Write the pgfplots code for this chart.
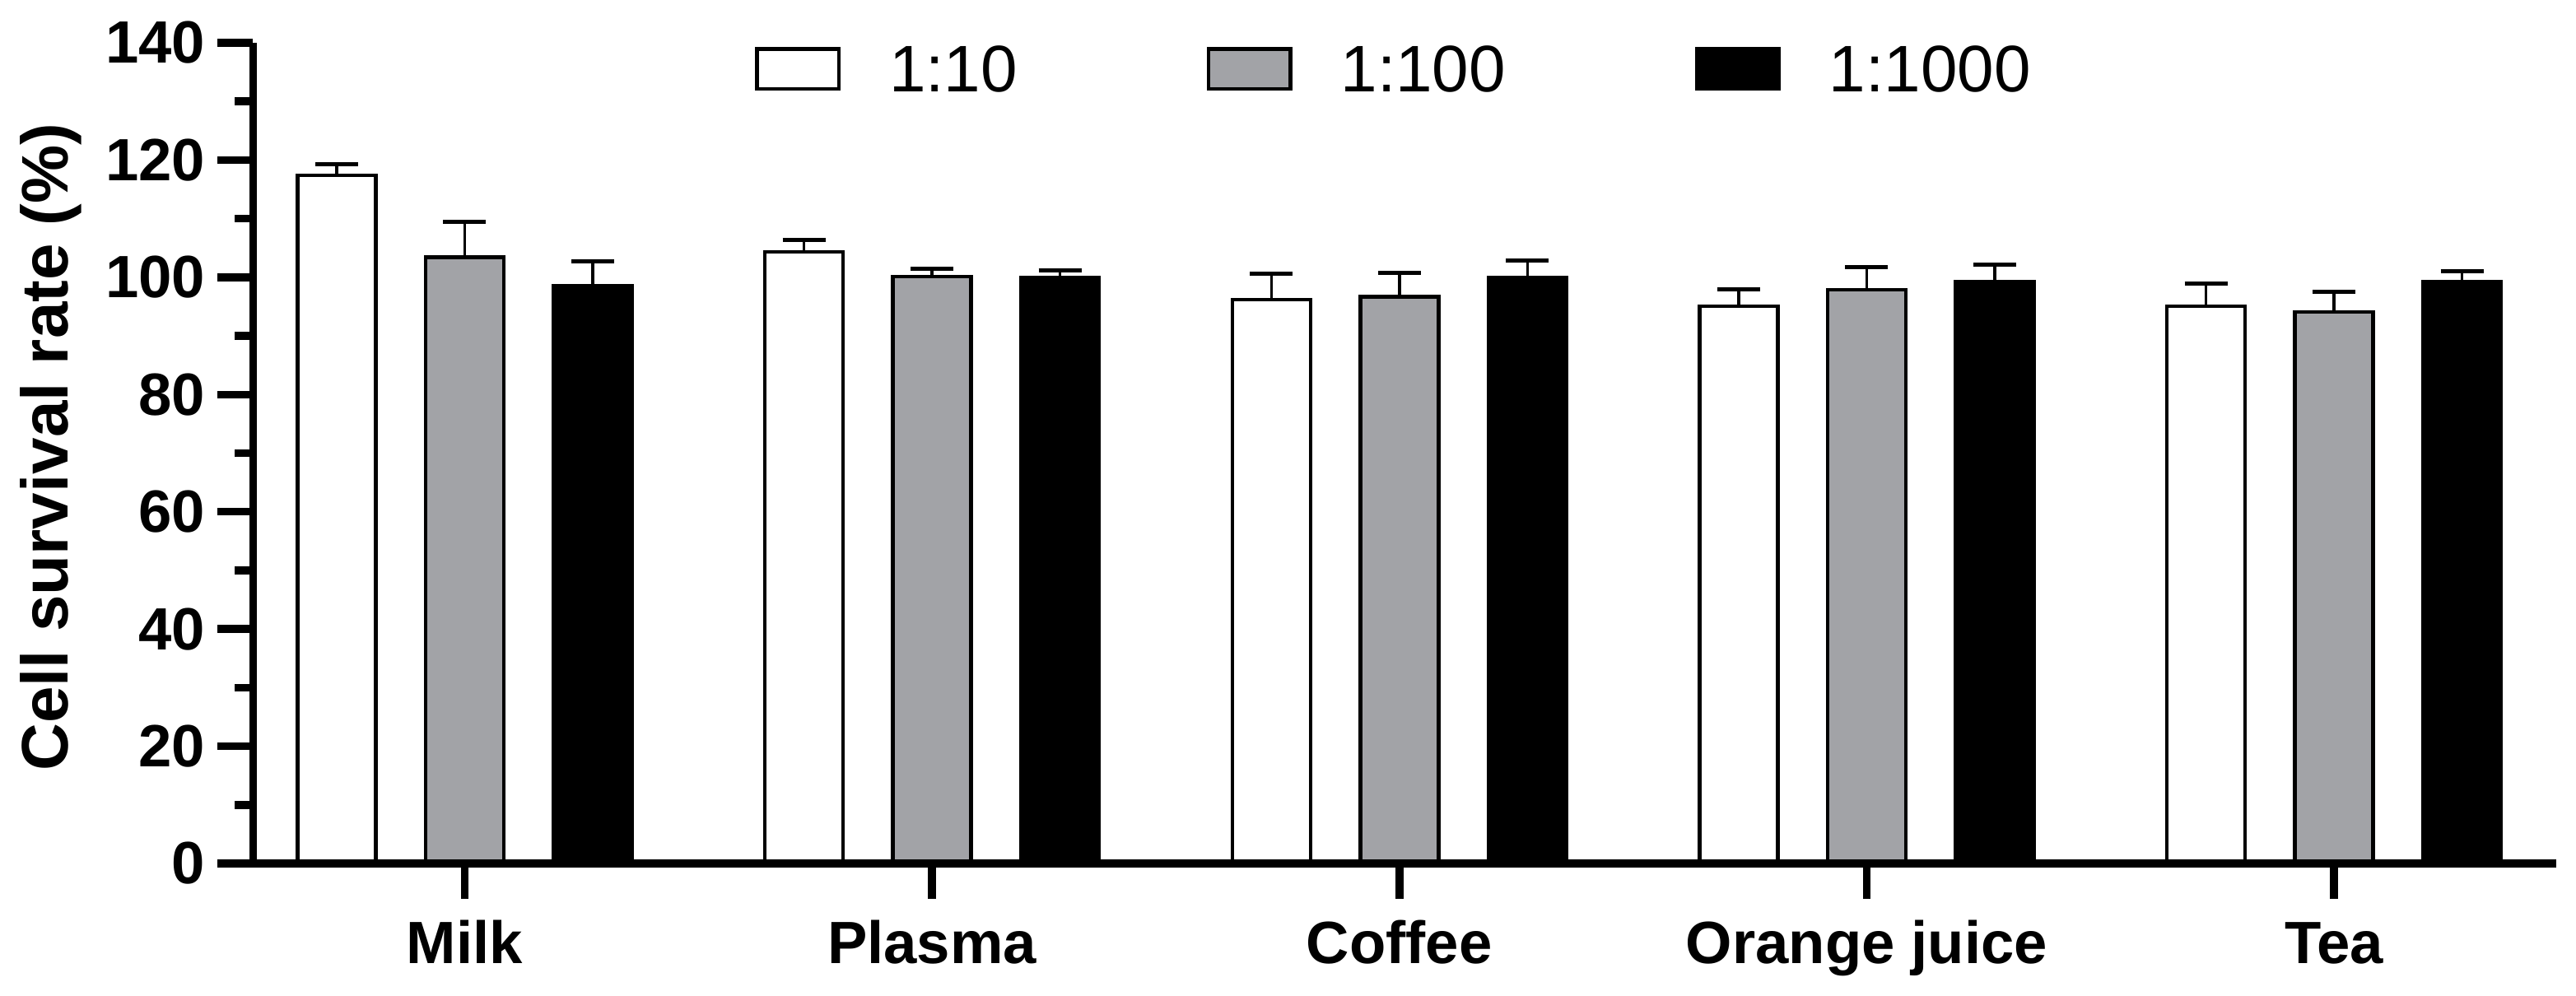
\documentclass[border=0pt]{standalone}
\usepackage{fontspec}
\setmainfont{Liberation Sans}
\usepackage{pgfplots}
\usepackage{pgfplotstable}
\pgfplotsset{compat=1.18}
\definecolor{bargray}{RGB}{162,163,167}

\pgfplotstableread{
x y e
0 117.4 1.9
1 104.3 2.1
2 96.2 4.4
3 95.1 2.8
4 95.1 3.8
}\dataA
\pgfplotstableread{
x y e
0 103.4 6.0
1 100.1 1.4
2 96.7 4.1
3 97.9 3.8
4 94.1 3.4
}\dataB
\pgfplotstableread{
x y e
0 98.5 4.2
1 100.0 1.2
2 100.0 2.8
3 99.3 2.8
4 99.3 1.7
}\dataC

\begin{document}
\begin{tikzpicture}
\begin{axis}[
  at={(0,0)}, anchor=south west,
  scale only axis, width=559.5pt, height=199.4pt,
  xmin=-0.4527, xmax=4.4756, ymin=0, ymax=140,
  ybar, bar width=19pt,
  axis x line*=bottom, axis y line*=left,
  axis line style={line width=1.9pt,-},
  x axis line style={-}, y axis line style={-},
  axis on top,
  xtick={0,1,2,3,4},
  xticklabels={Milk,Plasma,Coffee,Orange juice,Tea},
  ytick={0,20,...,140}, minor y tick num=1,
  tick align=outside,
  major tick length=8.6pt, minor tick length=4.4pt,
  every tick/.style={black, line width=1.9pt},
  /pgf/number format/assume math mode=true,
  xticklabel style={font=\bfseries\fontsize{14.5}{17}\selectfont, anchor=base, inner sep=0pt, yshift=-15.7pt},
  yticklabel style={font=\bfseries\fontsize{14.5}{17}\selectfont, anchor=east, inner sep=0pt, xshift=-2.9pt},
  ylabel={Cell survival rate (\%)},
  ylabel style={font=\bfseries\fontsize{16}{19}\selectfont, at={(axis description cs:-0.0879,0.5075)}, anchor=center, inner sep=0pt},
  legend columns=3,
  legend image code/.code={\draw[#1] (0pt,-4.85pt) rectangle (19.9pt,4.85pt);},
  legend style={at={(0.2179,0.9684)}, anchor=west, draw=none, fill=none,
    inner sep=0pt, outer sep=0pt,
    nodes={inner sep=0pt, text depth=0pt},
    cells={anchor=west},
    font=\fontsize{16}{19}\selectfont,
    /tikz/every odd column/.append style={column sep=11.8pt},
    /tikz/every even column/.append style={column sep=46pt}},
]
\addplot[fill=white, draw=black, line width=0.9pt, bar shift=-31.1pt,
  error bars/.cd, y dir=plus, y explicit,
  error bar style={line width=0.7pt, black},
  error mark options={rotate=90, mark size=5.2pt, line width=1pt, black}]
  table[x=x, y=y, y error=e]{\dataA};
\addplot[fill=bargray, draw=black, line width=0.9pt, bar shift=0pt,
  error bars/.cd, y dir=plus, y explicit,
  error bar style={line width=0.7pt, black},
  error mark options={rotate=90, mark size=5.2pt, line width=1pt, black}]
  table[x=x, y=y, y error=e]{\dataB};
\addplot[fill=black, draw=black, line width=0.9pt, bar shift=31.1pt,
  error bars/.cd, y dir=plus, y explicit,
  error bar style={line width=0.7pt, black},
  error mark options={rotate=90, mark size=5.2pt, line width=1pt, black}]
  table[x=x, y=y, y error=e]{\dataC};
\legend{1:10, 1:100, 1:1000}
\end{axis}
\pgfresetboundingbox
\path[use as bounding box] (-61.5pt,-32pt) rectangle (564.3pt,209.8pt);
\end{tikzpicture}
\end{document}
